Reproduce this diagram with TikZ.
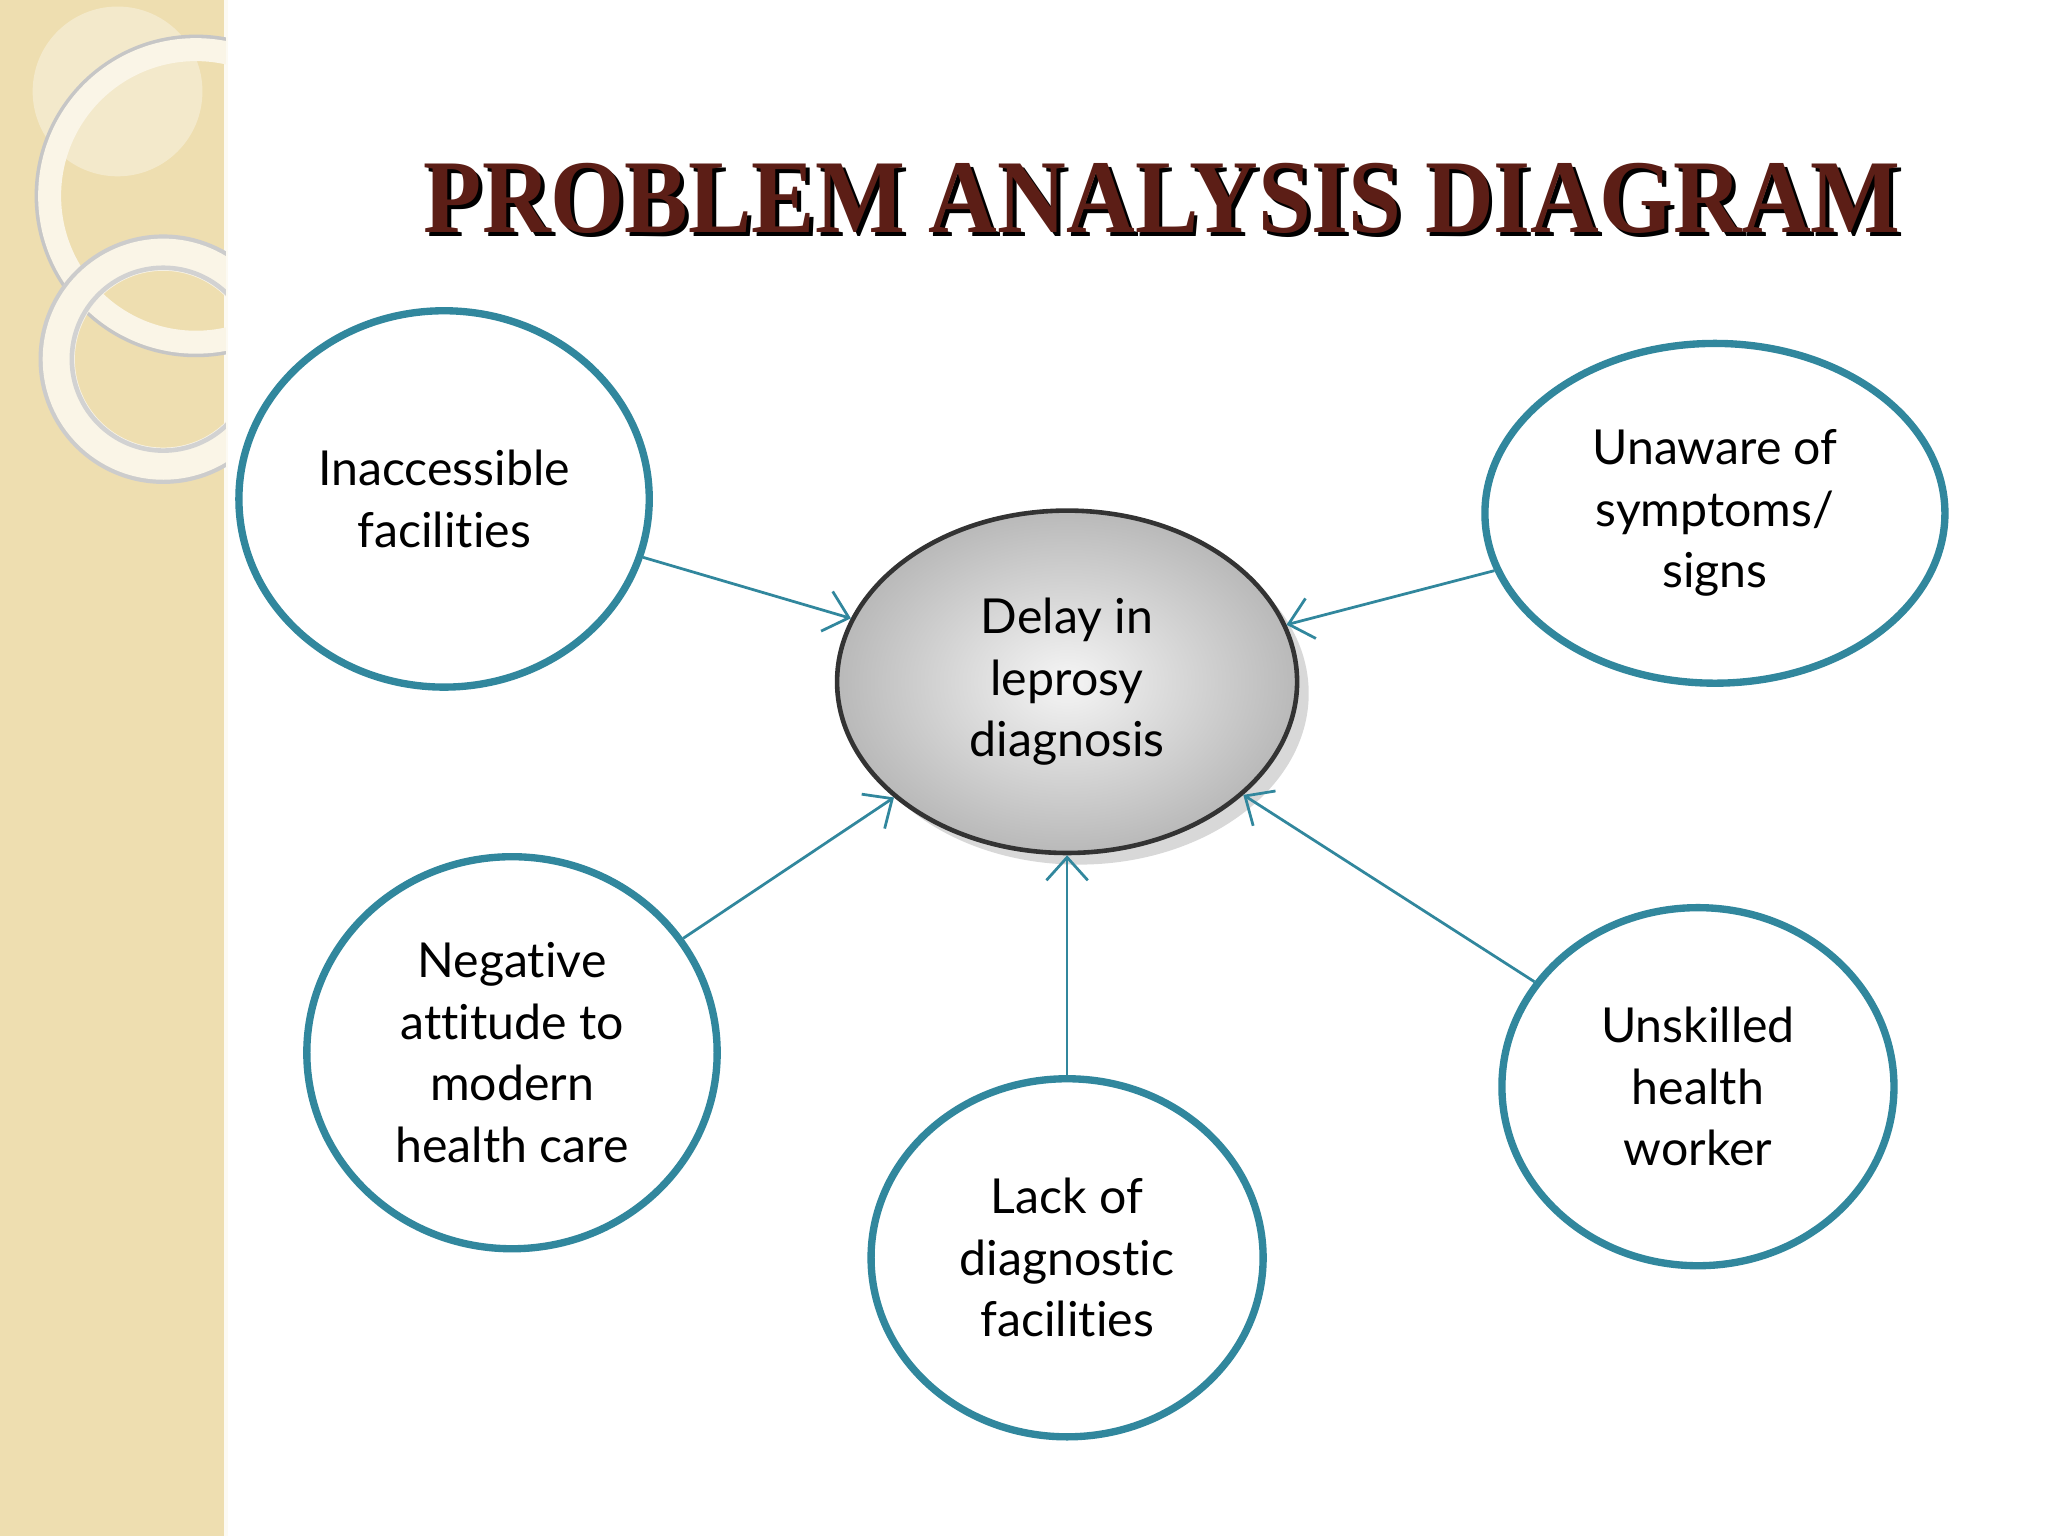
\documentclass[tikz,border=0pt]{standalone}
\usepackage{fontspec}
\setmainfont{Lato}[Ligatures={NoCommon}]
\usetikzlibrary{shapes.geometric,arrows.meta,shadows}
\definecolor{teal1}{RGB}{49,135,157}
\definecolor{beige}{RGB}{238,222,176}
\definecolor{titlec}{RGB}{92,30,22}
\tikzset{
 cause/.style={ellipse,draw=teal1,line width=1.6pt,fill=white,align=center,font=\fontsize{10.5}{13.4}\selectfont,inner sep=0pt},
 link/.style={draw=teal1,line width=0.6pt,-{Straight Barb[length=5pt,width=9pt]}}
}
\begin{document}
\begin{tikzpicture}[x=0.01cm,y=-0.01cm]
\useasboundingbox (0,0) rectangle (1568,1176);
\fill[white] (0,0) rectangle (1568,1176);
\fill[beige] (0,0) rectangle (173,1176);
\draw[white!85!beige,line width=1pt] (173,0) -- (173,1176);
\begin{scope}
\clip (0,0) rectangle (173,1176);
\fill[white,opacity=0.35] (90,70) circle (65);
\draw[gray!45,line width=2pt] (150,150) circle (120);
\draw[white!70!beige,line width=5pt] (150,150) circle (112);
\draw[gray!40,line width=2pt] (125,275) circle (92);
\draw[white!70!beige,line width=7pt] (125,275) circle (80);
\draw[gray!35,line width=1pt] (125,275) circle (70);
\end{scope}
\node[font=\bfseries,text=black] at (893,155) {\resizebox{11.3cm}{0.53cm}{\fontspec{Liberation Serif}PROBLEM ANALYSIS DIAGRAM}};
\node[font=\bfseries,text=titlec] (title) at (890,152) {\resizebox{11.3cm}{0.53cm}{\fontspec{Liberation Serif}PROBLEM ANALYSIS DIAGRAM}};

\node[ellipse,draw=black!80,line width=1pt,minimum width=3.52cm,minimum height=2.62cm,inner color=white!92!gray,outer color=gray!55,drop shadow={opacity=0.3},align=center,font=\fontsize{10.5}{13.4}\selectfont] (c) at (817,522) {Delay in\\leprosy\\diagnosis};

\node[cause,minimum width=3.14cm,minimum height=2.88cm] (a) at (340,382) {Inaccessible\\facilities};
\node[cause,minimum width=3.52cm,minimum height=2.60cm] (b) at (1313,393) {Unaware of\\symptoms/\\signs};
\node[cause,minimum width=3.14cm,minimum height=3.00cm] (d) at (392,806) {Negative\\attitude to\\modern\\health care};
\node[cause,minimum width=3.00cm,minimum height=2.74cm] (e) at (817,963) {Lack of\\diagnostic\\facilities};
\node[cause,minimum width=3.00cm,minimum height=2.74cm] (f) at (1300,832) {Unskilled\\health\\worker};

\draw[link] (a) -- (c);
\draw[link] (b) -- (c);
\draw[link] (d) -- (c);
\draw[link] (e) -- (c);
\draw[link] (f) -- (c);
\end{tikzpicture}
\end{document}
